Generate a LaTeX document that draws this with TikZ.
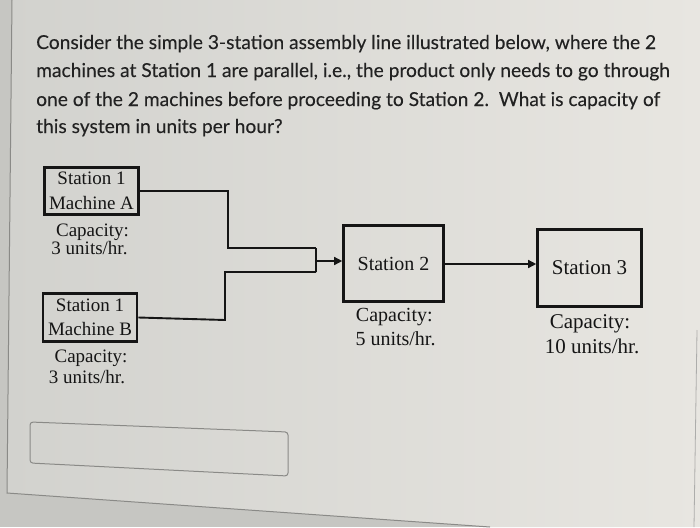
\documentclass[tikz,border=0pt]{standalone}
\usepackage{fontspec}
\setmainfont{Liberation Serif}
\newfontfamily\latofont[FakeBold=0.15]{Lato}
\usetikzlibrary{arrows.meta}
\definecolor{ink}{HTML}{151515}
\definecolor{qcol}{HTML}{222222}
\definecolor{outerbg}{HTML}{C6C6C2}
\definecolor{bgleft}{HTML}{D2D2CE}
\definecolor{bgright}{HTML}{E8E6E1}
\definecolor{rim}{HTML}{8A8A87}
\begin{document}
\begin{tikzpicture}[x=1pt,y=-1pt,
  qtext/.style={anchor=base west, inner sep=0pt, font=\latofont\fontsize{19.2}{22}\selectfont, text=qcol},
  stbox/.style={draw=ink, line width=2.6pt, align=center, inner sep=0pt, text=ink},
  capA/.style={anchor=base, inner sep=0pt, text=ink, font=\fontsize{19}{20}\selectfont},
  capS2/.style={anchor=base, inner sep=0pt, text=ink, font=\fontsize{20}{21}\selectfont},
  capS3/.style={anchor=base, inner sep=0pt, text=ink, font=\fontsize{21}{22}\selectfont},
  conn/.style={draw=ink, line width=1.9pt},
  flow/.style={draw=ink, line width=1.4pt, -{Triangle[length=8pt,width=8pt]}},
]
\useasboundingbox (0,0) rectangle (700,527);
% background and panel
\fill[outerbg] (0,0) rectangle (700,527);
\shade[left color=bgleft, right color=bgright] (12,0) -- (700,0) -- (700,527) -- (490,527) -- (7,493) -- cycle;
\draw[rim, line width=1pt] (12,0) -- (7,493) -- (490,527);
\draw[rim!70, line width=0.8pt] (697,330) -- (694,527);

% question text
\node[qtext] (q1) at (36,49) {Consider the simple 3-station assembly line illustrated below, where the 2};
\node[qtext] (q2) at (36,77) {machines at Station 1 are parallel, i.e., the product only needs to go through};
\node[qtext] (q3) at (36,106) {one of the 2 machines before proceeding to Station 2.\ \ What is capacity of};
\node[qtext] (q4) at (36,133) {this system in units per hour?};

% station boxes
\node[stbox, minimum width=94pt, minimum height=47pt, font=\fontsize{19}{25}\selectfont] (A) at (91.5,191) {Station 1\\Machine A};
\node[stbox, minimum width=94pt, minimum height=48pt, font=\fontsize{19}{24}\selectfont] (B) at (90,317.5) {Station 1\\Machine B};
\node[stbox, minimum width=100pt, minimum height=76pt, font=\fontsize{20}{22}\selectfont] (s2) at (393.5,263.5) {Station 2};
\node[stbox, minimum width=104pt, minimum height=77pt, font=\fontsize{21}{22}\selectfont] (s3) at (589.5,268) {Station 3};

% capacity labels
\node[capA] (cA1) at (92.5,236) {Capacity:};
\node[capA] (cA2) at (89.5,254.5) {3 units/hr.};
\node[capA] (cB1) at (91,362) {Capacity:};
\node[capA] (cB2) at (87,383) {3 units/hr.};
\node[capS2] (c21) at (394.3,321) {Capacity:};
\node[capS2] (c22) at (395.5,345) {5 units/hr.};
\node[capS3] (c31) at (590,328) {Capacity:};
\node[capS3] (c32) at (592,353) {10 units/hr.};

% merge connectors
\coordinate (jt) at (316,248);
\coordinate (jb) at (316,272);
\coordinate (jm) at (316,261);
\draw[conn] (A.east) -- (228,191) -- (228,248) -- (jt);
\draw[conn] (B.east) -- (225,320) -- (225,272) -- (jb);
\draw[conn] (jt) -- (jb);
\draw[flow] (jm) -- (jm -| s2.west);
\draw[flow] (s2.east |- 0,264) -- (s3.west |- 0,264);

% answer input box
\draw[rim, line width=1pt, rounded corners=3pt] (30,422) -- (288,432) -- (288,476) -- (30,463) -- cycle;
\end{tikzpicture}
\end{document}
